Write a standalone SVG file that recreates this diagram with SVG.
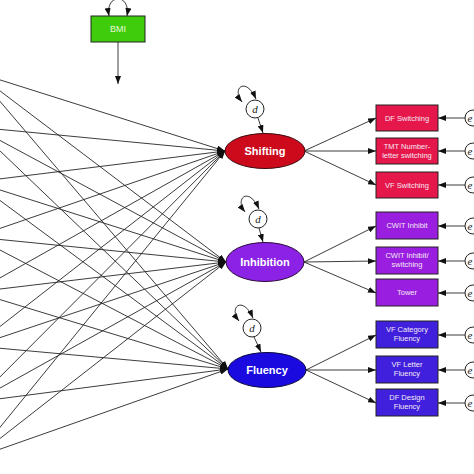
<svg xmlns="http://www.w3.org/2000/svg" width="474" height="474" viewBox="0 0 474 474">
<defs>
<marker id="ah" viewBox="0 0 8 6" refX="8" refY="3" markerWidth="8" markerHeight="6" markerUnits="userSpaceOnUse" orient="auto-start-reverse"><path d="M0,0 L8,3 L0,6 z" fill="#111"/></marker>
<style>
.ln{stroke:#262626;stroke-width:0.9;fill:none;marker-end:url(#ah)}
.arc{stroke:#222;stroke-width:0.9;fill:none;marker-start:url(#ah);marker-end:url(#ah)}
.box{stroke:#222;stroke-width:1}
.bt{font-family:"Liberation Sans",Arial,sans-serif;font-size:7.5px;fill:#f4eaf4;text-anchor:middle}
.lat{font-family:"Liberation Sans",Arial,sans-serif;font-size:11px;fill:#fff;text-anchor:middle;font-weight:600}
.circ{fill:#fff;stroke:#222;stroke-width:1}
.ct{font-family:"Liberation Serif","Times New Roman",serif;font-style:italic;font-size:11px;fill:#222;text-anchor:middle}
</style>
</defs>
<rect width="474" height="474" fill="#fff"/>
<g id="connectors">
<line class="ln" x1="-25" y1="72" x2="225" y2="151"/>
<line class="ln" x1="-25" y1="72" x2="226" y2="262"/>
<line class="ln" x1="-25" y1="72" x2="228" y2="369"/>
<line class="ln" x1="-25" y1="127" x2="225" y2="151"/>
<line class="ln" x1="-25" y1="127" x2="226" y2="262"/>
<line class="ln" x1="-25" y1="127" x2="228" y2="369"/>
<line class="ln" x1="-25" y1="182" x2="225" y2="151"/>
<line class="ln" x1="-25" y1="182" x2="226" y2="262"/>
<line class="ln" x1="-25" y1="182" x2="228" y2="369"/>
<line class="ln" x1="-25" y1="237" x2="225" y2="151"/>
<line class="ln" x1="-25" y1="237" x2="226" y2="262"/>
<line class="ln" x1="-25" y1="237" x2="228" y2="369"/>
<line class="ln" x1="-25" y1="292" x2="225" y2="151"/>
<line class="ln" x1="-25" y1="292" x2="226" y2="262"/>
<line class="ln" x1="-25" y1="292" x2="228" y2="369"/>
<line class="ln" x1="-25" y1="346" x2="225" y2="151"/>
<line class="ln" x1="-25" y1="346" x2="226" y2="262"/>
<line class="ln" x1="-25" y1="346" x2="228" y2="369"/>
<line class="ln" x1="-25" y1="402" x2="225" y2="151"/>
<line class="ln" x1="-25" y1="402" x2="226" y2="262"/>
<line class="ln" x1="-25" y1="402" x2="228" y2="369"/>
<line class="ln" x1="-25" y1="458" x2="225" y2="151"/>
<line class="ln" x1="-25" y1="458" x2="226" y2="262"/>
<line class="ln" x1="-25" y1="458" x2="228" y2="369"/>
<line class="ln" x1="118" y1="42" x2="118" y2="84"/>
<path class="arc" d="M109,16 C105,-7 131,-7 127,16"/>
<line class="ln" x1="258" y1="118" x2="263" y2="133"/>
<line class="ln" x1="259" y1="228" x2="263" y2="242"/>
<line class="ln" x1="254" y1="337" x2="261" y2="352"/>
<path class="arc" d="M242,102 C231,88 246,76 256,99"/>
<path class="arc" d="M245,212 C234,198 249,186 259,209"/>
<path class="arc" d="M239,321 C228,307 243,295 253,318"/>
<line class="ln" x1="304" y1="151" x2="376" y2="118"/>
<line class="ln" x1="304" y1="151" x2="376" y2="151"/>
<line class="ln" x1="304" y1="151" x2="376" y2="185"/>
<line class="ln" x1="304" y1="262" x2="376" y2="226"/>
<line class="ln" x1="304" y1="262" x2="376" y2="261"/>
<line class="ln" x1="304" y1="262" x2="376" y2="293"/>
<line class="ln" x1="306" y1="370" x2="376" y2="335"/>
<line class="ln" x1="306" y1="370" x2="376" y2="370"/>
<line class="ln" x1="306" y1="370" x2="376" y2="403"/>
<line class="ln" x1="465" y1="118" x2="438" y2="118"/>
<line class="ln" x1="465" y1="151" x2="438" y2="151"/>
<line class="ln" x1="465" y1="185" x2="438" y2="185"/>
<line class="ln" x1="465" y1="226" x2="438" y2="226"/>
<line class="ln" x1="465" y1="261" x2="438" y2="261"/>
<line class="ln" x1="465" y1="293" x2="438" y2="293"/>
<line class="ln" x1="465" y1="335" x2="438" y2="335"/>
<line class="ln" x1="465" y1="370" x2="438" y2="370"/>
<line class="ln" x1="465" y1="403" x2="438" y2="403"/>
</g>
<g id="bmi"><rect class="box" x="91" y="16" width="54" height="26" fill="#3fcc0c" stroke="#2b5a12"/><text x="118" y="32" font-family="Liberation Sans,Arial,sans-serif" font-size="9" fill="#e8f7dc" text-anchor="middle">BMI</text></g>
<g id="shifting"><ellipse cx="265" cy="151" rx="40" ry="17.5" fill="#cc0a1c" stroke="#3a0a0a" stroke-width="1"/><text class="lat" x="265" y="155">Shifting</text></g>
<g id="inhibition"><ellipse cx="265" cy="262" rx="39" ry="19.5" fill="#8b22e6" stroke="#2a0a3a" stroke-width="1"/><text class="lat" x="265" y="266">Inhibition</text></g>
<g id="fluency"><ellipse cx="267" cy="370" rx="39" ry="17.5" fill="#1a0ae0" stroke="#0a0a3a" stroke-width="1"/><text class="lat" x="267" y="374">Fluency</text></g>
<g id="d1"><circle class="circ" cx="255" cy="109" r="9"/><text class="ct" x="255" y="113">d</text></g>
<g id="d2"><circle class="circ" cx="258" cy="219" r="9"/><text class="ct" x="258" y="223">d</text></g>
<g id="d3"><circle class="circ" cx="252" cy="328" r="9"/><text class="ct" x="252" y="332">d</text></g>
<g id="df-switching"><rect class="box" x="376" y="105" width="62" height="26" fill="#e6174b"/><text class="bt" x="407" y="121">DF Switching</text></g>
<g id="tmt"><rect class="box" x="376" y="138" width="62" height="26" fill="#e6174b"/><text class="bt" x="407" y="149">TMT Number-</text><text class="bt" x="407" y="158">letter switching</text></g>
<g id="vf-switching"><rect class="box" x="376" y="172" width="62" height="26" fill="#e6174b"/><text class="bt" x="407" y="188">VF Switching</text></g>
<g id="cwit-inhibit"><rect class="box" x="376" y="212" width="62" height="27" fill="#9a1ee0"/><text class="bt" x="407" y="228">CWIT Inhibit</text></g>
<g id="cwit-switch"><rect class="box" x="376" y="247" width="62" height="27" fill="#9a1ee0"/><text class="bt" x="407" y="258">CWIT Inhibit/</text><text class="bt" x="407" y="267">switching</text></g>
<g id="tower"><rect class="box" x="376" y="279" width="62" height="27" fill="#9a1ee0"/><text class="bt" x="407" y="295">Tower</text></g>
<g id="vf-category"><rect class="box" x="376" y="321" width="62" height="27" fill="#4020dc"/><text class="bt" x="407" y="332">VF Category</text><text class="bt" x="407" y="341">Fluency</text></g>
<g id="vf-letter"><rect class="box" x="376" y="356" width="62" height="27" fill="#4020dc"/><text class="bt" x="407" y="367">VF Letter</text><text class="bt" x="407" y="376">Fluency</text></g>
<g id="df-design"><rect class="box" x="376" y="389" width="62" height="27" fill="#4020dc"/><text class="bt" x="407" y="400">DF Design</text><text class="bt" x="407" y="409">Fluency</text></g>
<g id="errors">
<circle class="circ" cx="473" cy="118" r="8"/><text class="ct" x="470" y="122">e</text>
<circle class="circ" cx="473" cy="151" r="8"/><text class="ct" x="470" y="155">e</text>
<circle class="circ" cx="473" cy="185" r="8"/><text class="ct" x="470" y="189">e</text>
<circle class="circ" cx="473" cy="226" r="8"/><text class="ct" x="470" y="230">e</text>
<circle class="circ" cx="473" cy="261" r="8"/><text class="ct" x="470" y="265">e</text>
<circle class="circ" cx="473" cy="293" r="8"/><text class="ct" x="470" y="297">e</text>
<circle class="circ" cx="473" cy="335" r="8"/><text class="ct" x="470" y="339">e</text>
<circle class="circ" cx="473" cy="370" r="8"/><text class="ct" x="470" y="374">e</text>
<circle class="circ" cx="473" cy="403" r="8"/><text class="ct" x="470" y="407">e</text>
</g>
</svg>
